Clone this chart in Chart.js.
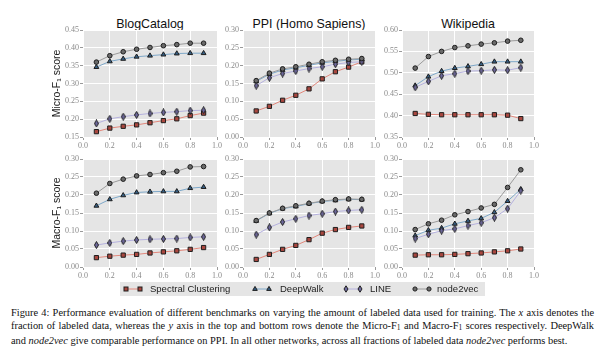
<!DOCTYPE html>
<html><head><meta charset="utf-8">
<script src="https://cdn.jsdelivr.net/npm/chart.js@4"></script>
<style>
html,body{margin:0;padding:0;background:#fff;width:600px;height:351px;overflow:hidden;position:relative;font-family:"Liberation Sans",Arial,sans-serif;}
canvas{position:absolute;}
.ttl{position:absolute;top:17px;font-size:12.4px;line-height:14px;text-align:center;color:#111;white-space:nowrap;}
#legend{position:absolute;left:120px;top:282px;width:365px;height:14px;background:#e5e5e5;font-size:9.5px;line-height:14px;color:#222;}
.li{position:absolute;top:0;height:14px;}
.ls{position:absolute;top:0;}
#cap{position:absolute;left:11px;top:306px;width:583px;font-family:"Liberation Serif","Times New Roman",serif;font-size:10.4px;line-height:13px;color:#111;}
#cap .j{text-align:justify;text-align-last:justify;}
</style>
</head><body>
<div class="ttl" style="left:90px;width:120px;">BlogCatalog</div>
<div class="ttl" style="left:239px;width:140px;">PPI (Homo Sapiens)</div>
<div class="ttl" style="left:408px;width:120px;">Wikipedia</div>

<canvas id="c0" width="178" height="131" style="left:51px;top:20px"></canvas>
<canvas id="c1" width="174" height="131" style="left:213px;top:20px"></canvas>
<canvas id="c2" width="174" height="131" style="left:372px;top:20px"></canvas>
<canvas id="c3" width="178" height="132" style="left:51px;top:149px"></canvas>
<canvas id="c4" width="174" height="132" style="left:213px;top:149px"></canvas>
<canvas id="c5" width="174" height="132" style="left:372px;top:149px"></canvas>

<div id="legend"></div>

<div id="cap">
<div class="j">Figure 4: Performance evaluation of different benchmarks on varying the amount of labeled data used for training. The <i>x</i> axis denotes the</div>
<div class="j">fraction of labeled data, whereas the <i>y</i> axis in the top and bottom rows denote the Micro-F<sub style="font-size:7.5px;vertical-align:-1px">1</sub> and Macro-F<sub style="font-size:7.5px;vertical-align:-1px">1</sub> scores respectively. DeepWalk</div>
<div>and <i>node2vec</i> give comparable performance on PPI. In all other networks, across all fractions of labeled data <i>node2vec</i> performs best.</div>
</div>

<script>
// ---------- data ----------
const fractions = [0.1, 0.2, 0.3, 0.4, 0.5, 0.6, 0.7, 0.8, 0.9];
const xTicks = [0.0, 0.2, 0.4, 0.6, 0.8, 1.0];
const methods = ['Spectral Clustering', 'DeepWalk', 'LINE', 'node2vec'];
const networks = ['BlogCatalog', 'PPI (Homo Sapiens)', 'Wikipedia'];
const yTitles = ['Micro-F\u2081 score', 'Macro-F\u2081 score'];

const yTicksBlogMicro = [0.15, 0.20, 0.25, 0.30, 0.35, 0.40, 0.45];
const yTicksPpiMicro  = [0.00, 0.05, 0.10, 0.15, 0.20, 0.25, 0.30];
const yTicksWikiMicro = [0.35, 0.40, 0.45, 0.50, 0.55, 0.60];
const yTicksMacro     = [0.00, 0.05, 0.10, 0.15, 0.20, 0.25, 0.30];

// Micro-F1
const blogMicroSpectral = [0.165, 0.175, 0.180, 0.184, 0.190, 0.196, 0.201, 0.210, 0.217];
const blogMicroDeepWalk = [0.346, 0.362, 0.369, 0.375, 0.378, 0.381, 0.384, 0.385, 0.385];
const blogMicroLINE     = [0.188, 0.201, 0.207, 0.212, 0.216, 0.219, 0.221, 0.224, 0.225];
const blogMicroNode2vec = [0.360, 0.378, 0.389, 0.396, 0.401, 0.406, 0.409, 0.413, 0.413];

const ppiMicroSpectral = [0.073, 0.086, 0.103, 0.117, 0.135, 0.163, 0.183, 0.196, 0.211];
const ppiMicroDeepWalk = [0.156, 0.176, 0.188, 0.194, 0.201, 0.208, 0.212, 0.216, 0.218];
const ppiMicroLINE     = [0.144, 0.166, 0.178, 0.185, 0.192, 0.197, 0.204, 0.209, 0.211];
const ppiMicroNode2vec = [0.158, 0.179, 0.191, 0.197, 0.204, 0.211, 0.215, 0.218, 0.220];

const wikiMicroSpectral = [0.405, 0.403, 0.402, 0.402, 0.402, 0.402, 0.402, 0.401, 0.393];
const wikiMicroDeepWalk = [0.470, 0.491, 0.504, 0.511, 0.515, 0.520, 0.526, 0.526, 0.526];
const wikiMicroLINE     = [0.466, 0.480, 0.493, 0.498, 0.504, 0.505, 0.507, 0.506, 0.512];
const wikiMicroNode2vec = [0.511, 0.538, 0.550, 0.559, 0.563, 0.567, 0.570, 0.574, 0.576];

// Macro-F1
const blogMacroSpectral = [0.026, 0.030, 0.033, 0.035, 0.039, 0.042, 0.045, 0.049, 0.054];
const blogMacroDeepWalk = [0.170, 0.188, 0.199, 0.207, 0.209, 0.210, 0.210, 0.219, 0.222];
const blogMacroLINE     = [0.061, 0.067, 0.072, 0.075, 0.077, 0.078, 0.079, 0.082, 0.084];
const blogMacroNode2vec = [0.205, 0.232, 0.244, 0.253, 0.257, 0.262, 0.266, 0.278, 0.279];

const ppiMacroSpectral = [0.021, 0.035, 0.049, 0.060, 0.076, 0.094, 0.104, 0.110, 0.114];
const ppiMacroDeepWalk = [0.128, 0.149, 0.162, 0.168, 0.176, 0.182, 0.185, 0.188, 0.187];
const ppiMacroLINE     = [0.090, 0.110, 0.125, 0.134, 0.143, 0.148, 0.154, 0.157, 0.159];
const ppiMacroNode2vec = [0.129, 0.150, 0.163, 0.170, 0.177, 0.183, 0.187, 0.189, 0.188];

const wikiMacroSpectral = [0.033, 0.034, 0.034, 0.035, 0.037, 0.039, 0.042, 0.045, 0.050];
const wikiMacroDeepWalk = [0.087, 0.102, 0.108, 0.120, 0.128, 0.135, 0.152, 0.183, 0.216];
const wikiMacroLINE     = [0.079, 0.091, 0.101, 0.106, 0.115, 0.123, 0.137, 0.162, 0.212];
const wikiMacroNode2vec = [0.104, 0.120, 0.130, 0.145, 0.154, 0.164, 0.174, 0.221, 0.270];

// ---------- styles ----------
const lineColors = ['#e2877b', '#7ea8c9', '#b5b1de', '#9b9b9b'];
const faceColors = ['#a9473f', '#365f84', '#6f6a9e', '#6a6a6a'];
const edgeColor = '#1e1e1e';

function thinDiamond() {
  const c = document.createElement('canvas');
  c.width = 5; c.height = 8;
  const x = c.getContext('2d');
  x.beginPath();
  x.moveTo(2.5, 0.5); x.lineTo(4.5, 4); x.lineTo(2.5, 7.5); x.lineTo(0.5, 4); x.closePath();
  x.fillStyle = faceColors[2]; x.fill();
  x.lineWidth = 1; x.strokeStyle = edgeColor; x.stroke();
  return c;
}
const diamondImg = thinDiamond();
const pointStyles = ['rect', 'triangle', diamondImg, 'circle'];
const pointRadii = [3.0, 2.8, 2.6, 2.3];

const bgPlugin = {
  id: 'bg',
  beforeDraw(c) {
    const {ctx, chartArea: a} = c;
    ctx.save();
    ctx.fillStyle = '#e5e5e5';
    ctx.fillRect(a.left, a.top, a.right - a.left, a.bottom - a.top);
    ctx.restore();
  }
};

const tickFont = {family: '"Liberation Serif","DejaVu Serif",serif', size: 8};

function makePanel(id, seriesList, yTicks, yTitle) {
  const first = !!yTitle;
  const datasets = seriesList.map((vals, i) => ({
    label: methods[i],
    data: fractions.map((f, k) => ({x: f, y: vals[k]})),
    borderColor: lineColors[i],
    borderWidth: 1,
    backgroundColor: faceColors[i],
    pointStyle: pointStyles[i],
    pointRadius: pointRadii[i],
    pointBackgroundColor: faceColors[i],
    pointBorderColor: edgeColor,
    pointBorderWidth: 1,
    fill: false,
    tension: 0,
    order: 3 - i
  }));
  new Chart(document.getElementById(id), {
    type: 'line',
    data: {datasets},
    plugins: [bgPlugin],
    options: {
      responsive: false,
      animation: false,
      devicePixelRatio: 1,
      layout: {padding: {left: 0, top: 10, right: 12, bottom: 0}},
      plugins: {legend: {display: false}, tooltip: {enabled: false}},
      scales: {
        x: {
          type: 'linear',
          min: xTicks[0], max: xTicks[xTicks.length - 1],
          afterBuildTicks: s => { s.ticks = xTicks.map(v => ({value: v})); },
          afterFit: s => { s.height = 14; },
          border: {display: false},
          grid: {color: '#ffffff', lineWidth: 1, tickColor: '#9a9a9a', tickLength: 3, drawTicks: true},
          ticks: {autoSkip: false, maxRotation: 0, padding: 1, color: '#8a8a8a', font: tickFont,
                  callback: v => Number(v).toFixed(1)}
        },
        y: {
          type: 'linear',
          min: yTicks[0], max: yTicks[yTicks.length - 1],
          afterBuildTicks: s => { s.ticks = yTicks.map(v => ({value: v})); },
          afterFit: s => { s.width = first ? 32 : 30; },
          border: {display: false},
          grid: {color: '#ffffff', lineWidth: 1, tickColor: '#9a9a9a', tickLength: 3, drawTicks: true},
          ticks: {autoSkip: false, padding: 1, color: '#8a8a8a', font: tickFont,
                  callback: v => Number(v).toFixed(2)},
          title: {display: first, text: yTitle || '', padding: 0, color: '#222',
                  font: {family: '"Liberation Sans",Arial,sans-serif', size: 10.5}}
        }
      }
    }
  });
}

makePanel('c0', [blogMicroSpectral, blogMicroDeepWalk, blogMicroLINE, blogMicroNode2vec], yTicksBlogMicro, yTitles[0]);
makePanel('c1', [ppiMicroSpectral, ppiMicroDeepWalk, ppiMicroLINE, ppiMicroNode2vec], yTicksPpiMicro, null);
makePanel('c2', [wikiMicroSpectral, wikiMicroDeepWalk, wikiMicroLINE, wikiMicroNode2vec], yTicksWikiMicro, null);
makePanel('c3', [blogMacroSpectral, blogMacroDeepWalk, blogMacroLINE, blogMacroNode2vec], yTicksMacro, yTitles[1]);
makePanel('c4', [ppiMacroSpectral, ppiMacroDeepWalk, ppiMacroLINE, ppiMacroNode2vec], yTicksMacro, null);
makePanel('c5', [wikiMacroSpectral, wikiMacroDeepWalk, wikiMacroLINE, wikiMacroNode2vec], yTicksMacro, null);

// ---------- legend ----------
const legendSampleX = [3, 132, 223, 292];
const legendTextX = [30, 160, 250, 317];
function markerSvg(i, cx, cy) {
  const f = faceColors[i], e = edgeColor;
  if (i === 0) return `<rect x="${cx-2}" y="${cy-2}" width="4" height="4" fill="${f}" stroke="${e}" stroke-width="1"/>`;
  if (i === 1) return `<polygon points="${cx},${cy-2.6} ${cx+2.3},${cy+1.4} ${cx-2.3},${cy+1.4}" fill="${f}" stroke="${e}" stroke-width="1"/>`;
  if (i === 2) return `<polygon points="${cx},${cy-3.2} ${cx+2},${cy} ${cx},${cy+3.2} ${cx-2},${cy}" fill="${f}" stroke="${e}" stroke-width="1"/>`;
  return `<circle cx="${cx}" cy="${cy}" r="2.1" fill="${f}" stroke="${e}" stroke-width="1"/>`;
}
const lg = document.getElementById('legend');
methods.forEach((m, i) => {
  const s = document.createElement('div');
  s.className = 'ls';
  s.style.left = legendSampleX[i] + 'px';
  s.innerHTML = `<svg width="20" height="14" xmlns="http://www.w3.org/2000/svg"><line x1="3" y1="7" x2="17" y2="7" stroke="${lineColors[i]}" stroke-width="1"/>${markerSvg(i,3,7)}${markerSvg(i,17,7)}</svg>`;
  lg.appendChild(s);
  const t = document.createElement('div');
  t.className = 'li';
  t.style.left = legendTextX[i] + 'px';
  t.textContent = m;
  lg.appendChild(t);
});
</script>
</body></html>
